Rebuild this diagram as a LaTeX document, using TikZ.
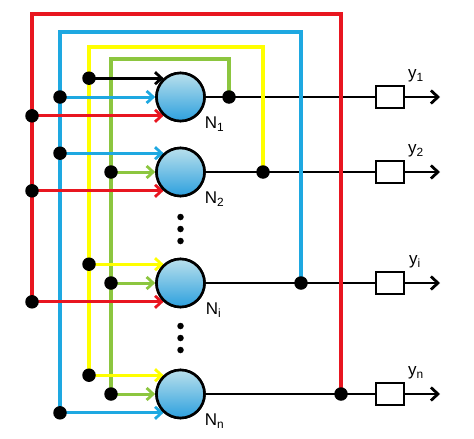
\documentclass[tikz,border=0pt]{standalone}
\usepackage{fontspec}
\setmainfont{Liberation Sans}
\usetikzlibrary{arrows.meta,calc}
\definecolor{cred}{RGB}{232,22,32}
\definecolor{cblue}{RGB}{30,168,225}
\definecolor{cyellow}{RGB}{255,255,0}
\definecolor{cgreen}{RGB}{140,198,63}
\definecolor{ctop}{RGB}{185,224,236}
\definecolor{cbot}{RGB}{45,160,222}
\tikzset{
  neuron/.style={circle,draw=black,line width=2.6pt,minimum size=48pt,inner sep=0pt,top color=ctop,bottom color=cbot},
  jdot/.style={circle,fill=black,minimum size=13.5pt,inner sep=0pt},
  edot/.style={circle,fill=black,minimum size=6.5pt,inner sep=0pt},
  obox/.style={rectangle,draw=black,fill=white,line width=2.8pt,minimum width=28pt,minimum height=22pt,inner sep=0pt},
  wire/.style={line width=3.2pt},
  inarrow/.style={line width=3pt,-{Straight Barb[length=6.5pt,width=12pt,line width=2.8pt]}},
  outline/.style={line width=2.6pt,draw=black},
  outarrow/.style={line width=2.8pt,-{Straight Barb[length=7pt,width=13pt,line width=2.8pt]}},
  lab/.style={font=\fontsize{17}{19}\selectfont,inner sep=0pt}
}
\begin{document}
\begin{tikzpicture}[x=1pt,y=-1pt]
\useasboundingbox (0,0) rectangle (474,439);
% neurons
\node[neuron] (N1) at (180.5,97) {};
\node[neuron] (N2) at (180.5,172) {};
\node[neuron] (Ni) at (180.5,283) {};
\node[neuron] (Nn) at (180.5,394) {};
% column coordinates
\coordinate (rx) at (32,0);
\coordinate (bx) at (60,0);
\coordinate (yx) at (89,0);
\coordinate (gx) at (111,0);
\coordinate (gr) at (229,0);
\coordinate (yr) at (263,0);
\coordinate (br) at (301,0);
\coordinate (rr) at (341,0);
\coordinate (bxc) at (390,0);
\coordinate (ex) at (440,0);
% corners
\coordinate (rtl) at (32,14);  \coordinate (rtr) at (341,14);
\coordinate (btl) at (60,32);  \coordinate (btr) at (301,32);
\coordinate (ytl) at (89,47);  \coordinate (ytr) at (263,47);
\coordinate (gtl) at (111,59); \coordinate (gtr) at (229,59);
% input junctions
\coordinate (k1) at (N1.132 -| yx);
\coordinate (b1) at (N1.west -| bx);
\coordinate (r1) at (N1.228 -| rx);
\coordinate (b2) at (N2.132 -| bx);
\coordinate (g2) at (N2.west -| gx);
\coordinate (r2) at (N2.228 -| rx);
\coordinate (y3) at (Ni.132 -| yx);
\coordinate (g3) at (Ni.west -| gx);
\coordinate (r3) at (Ni.228 -| rx);
\coordinate (y4) at (Nn.132 -| yx);
\coordinate (g4) at (Nn.west -| gx);
\coordinate (b4) at (Nn.228 -| bx);
% output junctions
\coordinate (o1) at (N1 -| gr);
\coordinate (o2) at (N2 -| yr);
\coordinate (o3) at (Ni -| br);
\coordinate (o4) at (Nn -| rr);
% output boxes
\node[obox] (B1) at (N1 -| bxc) {};
\node[obox] (B2) at (N2 -| bxc) {};
\node[obox] (B3) at (Ni -| bxc) {};
\node[obox] (B4) at (Nn -| bxc) {};
\coordinate (e1) at (N1 -| ex);
\coordinate (e2) at (N2 -| ex);
\coordinate (e3) at (Ni -| ex);
\coordinate (e4) at (Nn -| ex);
% output lines
\draw[outline] (N1) -- (B1);
\draw[outline] (N2) -- (B2);
\draw[outline] (Ni) -- (B3);
\draw[outline] (Nn) -- (B4);
\draw[outarrow] (B1) -- (e1);
\draw[outarrow] (B2) -- (e2);
\draw[outarrow] (B3) -- (e3);
\draw[outarrow] (B4) -- (e4);
\node[obox] at (B1) {};
\node[obox] at (B2) {};
\node[obox] at (B3) {};
\node[obox] at (B4) {};
% feedback loops
\draw[wire,cred] (r3) -- (rtl) -- (rtr) -- (o4);
\draw[wire,cblue] (b4) -- (btl) -- (btr) -- (o3);
\draw[wire,cyellow] (y4) -- (ytl) -- (ytr) -- (o2);
\draw[wire,cgreen] (g4) -- (gtl) -- (gtr) -- (o1);
% input arrows
\draw[inarrow,black] (k1) -- (N1.132);
\draw[inarrow,cblue] (b1) -- (N1.west);
\draw[inarrow,cred] (r1) -- (N1.228);
\draw[inarrow,cblue] (b2) -- (N2.132);
\draw[inarrow,cgreen] (g2) -- (N2.west);
\draw[inarrow,cred] (r2) -- (N2.228);
\draw[inarrow,cyellow] (y3) -- (Ni.132);
\draw[inarrow,cgreen] (g3) -- (Ni.west);
\draw[inarrow,cred] (r3) -- (Ni.228);
\draw[inarrow,cyellow] (y4) -- (Nn.132);
\draw[inarrow,cgreen] (g4) -- (Nn.west);
\draw[inarrow,cblue] (b4) -- (Nn.228);
% junction dots
\foreach \p in {k1,b1,r1,b2,g2,r2,y3,g3,r3,y4,g4,b4,o1,o2,o3,o4}
  \node[jdot] at (\p) {};
% redraw neurons on top
\node[neuron] at (N1) {};
\node[neuron] at (N2) {};
\node[neuron] at (Ni) {};
\node[neuron] at (Nn) {};
% ellipsis dots
\node[edot] (d1) at (180.5,217) {};
\node[edot] (d2) at (180.5,229) {};
\node[edot] (d3) at (180.5,241) {};
\node[edot] (d4) at (180.5,326) {};
\node[edot] (d5) at (180.5,338) {};
\node[edot] (d6) at (180.5,350) {};
% labels
\node[lab] (L1) at ($(N1)+(34,27)$) {N\textsubscript{1}};
\node[lab] (L2) at ($(N2)+(34,27)$) {N\textsubscript{2}};
\node[lab] (L3) at ($(Ni)+(33,27)$) {N\textsubscript{i}};
\node[lab] (L4) at ($(Nn)+(34,27)$) {N\textsubscript{n}};
\node[lab] (Y1) at ($(B1)+(26,-21)$) {y\textsubscript{1}};
\node[lab] (Y2) at ($(B2)+(26,-21)$) {y\textsubscript{2}};
\node[lab] (Y3) at ($(B3)+(25,-21)$) {y\textsubscript{i}};
\node[lab] (Y4) at ($(B4)+(26,-21)$) {y\textsubscript{n}};
\end{tikzpicture}
\end{document}
